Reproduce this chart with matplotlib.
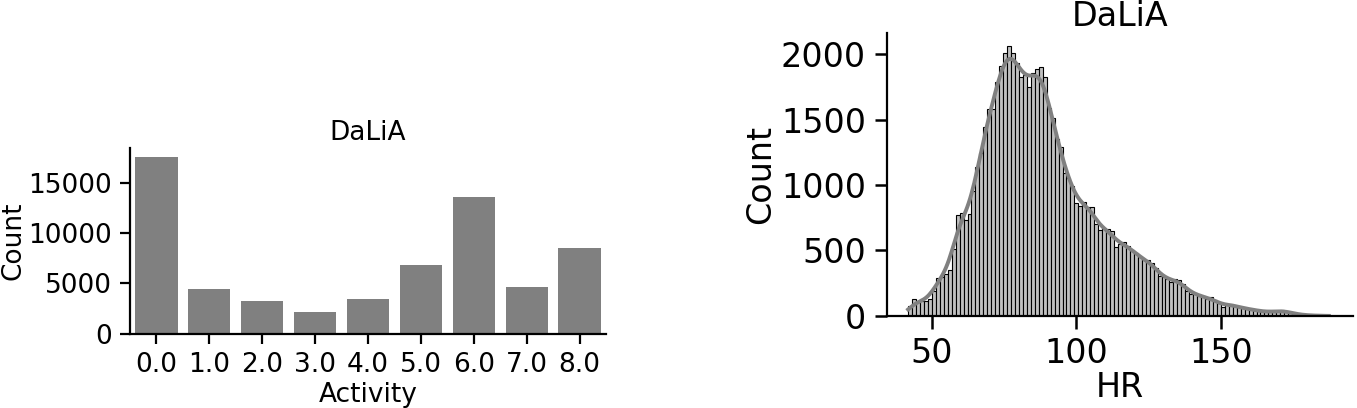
import numpy as np
import matplotlib
matplotlib.use('Agg')
import matplotlib.pyplot as plt

# activity counts (left)
activities = ['0.0', '1.0', '2.0', '3.0', '4.0', '5.0', '6.0', '7.0', '8.0']
activity_counts = [17530, 4480, 3220, 2220, 3420, 6800, 13580, 4610, 8500]

# heart rate histogram (right), read bin by bin
hr_start = 41.8
hr_binwidth = 1.37
hr_counts = [
    76, 127, 104, 112, 118, 130, 193, 288, 300, 320,
    351, 510, 771, 790, 730, 777, 957, 1140, 1242, 1442,
    1578, 1580, 1789, 1908, 2005, 2061, 2010, 1929, 1827, 1840,
    1751, 1852, 1883, 1898, 1822, 1585, 1509, 1349, 1293, 1089,
    1051, 990, 860, 840, 873, 830, 830, 702, 656, 669,
    665, 651, 525, 553, 562, 534, 500, 480, 453, 424,
    425, 407, 370, 308, 297, 280, 262, 283, 275, 245,
    190, 167, 172, 153, 153, 128, 142, 122, 97, 66,
    92, 92, 76, 71, 58, 56, 51, 46, 40, 33,
    30, 33, 30, 38, 45, 38, 25, 18, 12, 8,
    6, 5, 3, 2, 2, 1, 1,
]

plt.rcParams['font.family'] = 'DejaVu Sans'

fig = plt.figure(figsize=(13.57, 4.08), dpi=100)

# ---- left: activity counts
ax1 = fig.add_axes([0.0958, 0.1814, 0.3508, 0.4556])
ax1.bar(range(len(activities)), activity_counts, width=0.8, color='#808080')
ax1.set_xticks(range(len(activities)))
ax1.set_xticklabels(activities)
ax1.set_xlim(-0.5, len(activities) - 0.5)
ax1.set_yticks([0, 5000, 10000, 15000])
ax1.set_xlabel('Activity', fontsize=19, labelpad=3)
ax1.set_ylabel('Count', fontsize=19, labelpad=1)
ax1.set_title('DaLiA', fontsize=19, pad=6)
ax1.tick_params(labelsize=19, length=7, width=1.6, pad=6)

# ---- right: HR histogram + smoothed density
edges = hr_start + hr_binwidth * np.arange(len(hr_counts) + 1)
counts = np.array(hr_counts, dtype=float)
centers = edges[:-1] + hr_binwidth / 2

ax2 = fig.add_axes([0.6536, 0.2255, 0.3434, 0.6948])
ax2.hist(centers, bins=edges, weights=counts, facecolor='#c0c0c0',
         edgecolor='black', linewidth=0.8)

n = counts.sum()
mu = (centers * counts).sum() / n
sd = np.sqrt(((centers - mu) ** 2 * counts).sum() / n)
bw = sd * n ** (-1 / 5)
grid = np.linspace(edges[0], edges[-1] - 1, 300)
dens = (counts[None, :] * np.exp(-0.5 * ((grid[:, None] - centers[None, :]) / bw) ** 2)).sum(1)
dens = dens / (n * bw * np.sqrt(2 * np.pi))
ax2.plot(grid, dens * n * hr_binwidth, color='#808080', linewidth=2.8)

ax2.set_xticks([50, 100, 150])
ax2.set_yticks([0, 500, 1000, 1500, 2000])
ax2.set_xlabel('HR', fontsize=24, labelpad=1)
ax2.set_ylabel('Count', fontsize=24, labelpad=3)
ax2.set_title('DaLiA', fontsize=24, pad=4)
ax2.tick_params(labelsize=24, length=9, width=1.8, pad=6)

for ax in (ax1, ax2):
    ax.spines['top'].set_visible(False)
    ax.spines['right'].set_visible(False)
    for s in ('left', 'bottom'):
        ax.spines[s].set_linewidth(1.6)

fig.savefig('out.png', dpi=100)
